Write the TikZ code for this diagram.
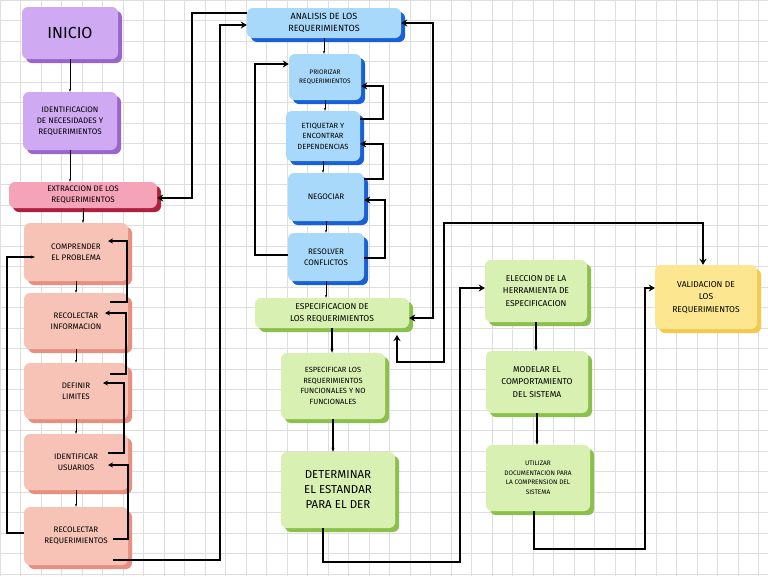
\documentclass[tikz,border=0pt]{standalone}
\usepackage{fontspec}
\setmainfont{Fira Sans}
\usetikzlibrary{shadows,arrows.meta}
\definecolor{purp}{HTML}{CFA9F2}\definecolor{purpS}{HTML}{9A66CC}
\definecolor{pink}{HTML}{F5A3B8}\definecolor{pinkS}{HTML}{B01F40}
\definecolor{salm}{HTML}{F6C3B6}\definecolor{salmS}{HTML}{E8907F}
\definecolor{blu}{HTML}{A9D9FA}\definecolor{bluS}{HTML}{1760D8}
\definecolor{grn}{HTML}{D9F0B3}\definecolor{grnS}{HTML}{8CC04C}
\definecolor{yel}{HTML}{FCE68F}\definecolor{yelS}{HTML}{F5C94B}
\tikzset{
 box/.style n args={2}{draw=none,fill=#1,rounded corners=6pt,align=center,inner sep=1pt,
   drop shadow={shadow xshift=4pt,shadow yshift=-4pt,fill=#2,opacity=1}},
 P/.style={box={purp}{purpS}}, K/.style={box={pink}{pinkS}}, S/.style={box={salm}{salmS}},
 B/.style={box={blu}{bluS}}, G/.style={box={grn}{grnS}}, Y/.style={box={yel}{yelS}},
 fs/.style={font=\fontsize{8}{11}\selectfont},
 thin arr/.style={-{Stealth[length=3pt]},line width=0.7pt},
 lp/.style={line width=1.6pt,-{Stealth[length=5pt,width=5pt]}},
 thk/.style={line width=2.2pt,-{Stealth[length=6pt,width=7pt]}},
 thkb/.style={line width=2.2pt,{Stealth[length=6pt,width=7pt]}-{Stealth[length=6pt,width=7pt]}},
}
\begin{document}
\begin{tikzpicture}[x=1pt,y=-1pt]
\useasboundingbox (0,0) rectangle (768,576);
\fill[white] (0,0) rectangle (768,576);
\foreach \i in {0,...,38} {\draw[black!13,line width=0.4pt] (\i*20.5,0) -- (\i*20.5,576);}
\foreach \i in {0,...,28} {\draw[black!13,line width=0.4pt] (0,\i*20.5) -- (768,\i*20.5);}
% left column
\node[P,minimum width=96,minimum height=52,font=\fontsize{16}{18}\selectfont] (ini) at (70,33) {INICIO};
\node[P,fs,minimum width=94,minimum height=58] (idn) at (70,121) {IDENTIFICACION\\DE NECESIDADES Y\\REQUERIMIENTOS};
\node[K,fs,minimum width=148,minimum height=26] (ext) at (83,195) {EXTRACCION DE LOS\\REQUERIMIENTOS};
\node[S,fs,minimum width=104,minimum height=58] (com) at (76,252) {COMPRENDER\\EL PROBLEMA};
\node[S,fs,minimum width=104,minimum height=56] (rin) at (76,321) {RECOLECTAR\\INFORMACION};
\node[S,fs,minimum width=104,minimum height=56] (def) at (76,391) {DEFINIR\\LIMITES};
\node[S,fs,minimum width=104,minimum height=56] (ide) at (76,462) {IDENTIFICAR\\USUARIOS};
\node[S,fs,minimum width=104,minimum height=58] (rre) at (76,536) {RECOLECTAR\\REQUERIMIENTOS};
% blue column
\node[B,font=\fontsize{9}{12.5}\selectfont,minimum width=154,minimum height=30] (ana) at (324,23) {ANALISIS DE LOS\\REQUERIMIENTOS};
\node[B,font=\fontsize{6.5}{9.5}\selectfont,minimum width=72,minimum height=46] (pri) at (325,77) {PRIORIZAR\\REQUERIMIENTOS};
\node[B,font=\fontsize{7.5}{10.5}\selectfont,minimum width=74,minimum height=50] (eti) at (323,136) {ETIQUETAR Y\\ENCONTRAR\\DEPENDENCIAS};
\node[B,fs,minimum width=76,minimum height=48] (neg) at (326,197) {NEGOCIAR};
\node[B,fs,minimum width=76,minimum height=48] (res) at (326,257) {RESOLVER\\CONFLICTOS};
% green
\node[G,font=\fontsize{8.5}{11.5}\selectfont,minimum width=154,minimum height=30] (esp) at (332,313) {ESPECIFICACION DE\\LOS REQUERIMIENTOS};
\node[G,font=\fontsize{7.5}{10.5}\selectfont,minimum width=104,minimum height=66] (efn) at (333,386) {ESPECIFICAR LOS\\REQUERIMIENTOS\\FUNCIONALES Y NO\\FUNCIONALES};
\node[G,font=\fontsize{11.5}{15}\selectfont,minimum width=114,minimum height=76] (det) at (338,490) {DETERMINAR\\EL ESTANDAR\\PARA EL DER};
\node[G,font=\fontsize{8.5}{12.5}\selectfont,minimum width=102,minimum height=62] (ele) at (536,291) {ELECCION DE LA\\HERRAMIENTA DE\\ESPECIFICACION};
\node[G,font=\fontsize{8.5}{12.5}\selectfont,minimum width=102,minimum height=62] (mod) at (537,382) {MODELAR EL\\COMPORTAMIENTO\\DEL SISTEMA};
\node[G,font=\fontsize{6.5}{9.5}\selectfont,minimum width=104,minimum height=66] (uti) at (538,478) {UTILIZAR\\DOCUMENTACION PARA\\LA COMPRENSION DEL\\SISTEMA};
\node[Y,font=\fontsize{8.5}{12.5}\selectfont,minimum width=102,minimum height=64] (val) at (706,297) {VALIDACION DE\\LOS\\REQUERIMIENTOS};
% straight chain
\foreach \a/\b in {ini/idn,idn/ext,ext/com,com/rin,rin/def,def/ide,ide/rre,ana/pri,pri/eti,eti/neg,neg/res,res/esp}
  \draw[thin arr] (\a.south) -- (\a.south|-\b.north);
\foreach \a/\b in {esp/efn,efn/det,ele/mod,mod/uti}
  \draw[line width=1.4pt,-{Stealth[length=4pt]}] (\a.south) -- (\a.south|-\b.north);
% left loops
\draw[lp] (110,302) -- (127,302) -- (127,241) -- (108,241);
\draw[lp] (110,374) -- (126,374) -- (126,313) -- (105,313);
\draw[lp] (108,453) -- (124,453) -- (124,383) -- (103,383);
\draw[lp] (113,539) -- (128,539) -- (128,465) -- (108,465);
\draw[line width=1.3pt,-{Stealth[length=4pt]}] (rre.west|-0,533) -- (7,533) -- (7,257) -- (35,257);
\draw[thk] (113,560) -- (220,560) -- (220,25) -- (ana.west|-0,25);
\draw[thk] (ana.west|-0,13) -- (192,13) -- (192,198) -- (ext.east|-0,198);
% blue loops
\draw[thk] (eti.east|-0,119) -- (383,119) -- (383,86) -- (pri.east|-0,86);
\draw[thk] (neg.east|-0,179) -- (383,179) -- (383,144) -- (eti.east|-0,144);
\draw[thk] (res.east|-0,258) -- (385,258) -- (385,200) -- (neg.east|-0,200);
\draw[thk] (res.west|-0,255) -- (255,255) -- (255,64) -- (pri.west|-0,64);
\draw[thkb] (ana.east|-0,23) -- (433,23) -- (433,318) -- (esp.east|-0,318);
% green loops
\draw[thkb] (397,335) -- (397,362) -- (444,362) -- (444,223) -- (703,223) -- (val.north-|703,0);
\draw[thk] (det.south-|323,0) -- (323,562) -- (460,562) -- (460,288) -- (ele.west|-0,288);
\draw[thk] (uti.south-|534,0) -- (534,549) -- (645,549) -- (645,288) -- (val.west|-0,288);
\end{tikzpicture}
\end{document}
